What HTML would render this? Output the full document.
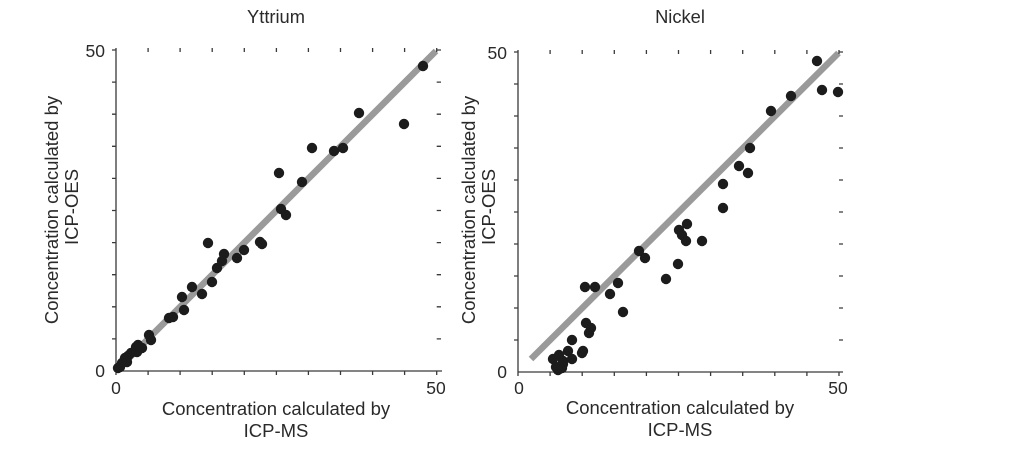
<!DOCTYPE html>
<html>
<head>
<meta charset="utf-8">
<style>
  html, body { margin: 0; padding: 0; background: #ffffff; }
  svg { display: block; }
  text { font-family: "Liberation Sans", Arial, sans-serif; fill: #2a2a2a; }
</style>
</head>
<body>
<svg width="1011" height="455" viewBox="0 0 1011 455" xmlns="http://www.w3.org/2000/svg">
  <rect width="1011" height="455" fill="#ffffff"/>

  <!-- ===================== LEFT CHART: Yttrium ===================== -->
  <text x="276" y="23" font-size="18.3" text-anchor="middle">Yttrium</text>

  <!-- identity line -->
  <line x1="117" y1="370" x2="436" y2="51" stroke="#9a9a9a" stroke-width="6.5"/>

  <!-- axes -->
  <g stroke="#3a3a3a" stroke-width="1.3" fill="none">
    <line x1="116" y1="48" x2="116" y2="371"/>
    <line x1="116" y1="371" x2="442" y2="371"/>
    <!-- left ticks -->
    <path d="M112 50H116 M112 82.1H116 M112 114.2H116 M112 146.3H116 M112 178.4H116 M112 210.5H116 M112 242.6H116 M112 274.7H116 M112 306.8H116 M112 338.9H116"/>
    <!-- bottom ticks -->
    <path d="M116 371V375 M148.1 371V375 M180.1 371V375 M212.2 371V375 M244.3 371V375 M276.4 371V375 M308.4 371V375 M340.5 371V375 M372.6 371V375 M404.6 371V375 M436.7 371V375"/>
    <!-- top ticks -->
    <path d="M148.1 48V52 M180.1 48V52 M212.2 48V52 M244.3 48V52 M276.4 48V52 M308.4 48V52 M340.5 48V52 M372.6 48V52 M404.6 48V52 M436.7 48V52"/>
    <!-- right ticks -->
    <path d="M436.7 50H441 M436.7 82.1H441 M436.7 114.2H441 M436.7 146.3H441 M436.7 178.4H441 M436.7 210.5H441 M436.7 242.6H441 M436.7 274.7H441 M436.7 306.8H441 M436.7 338.9H441"/>
  </g>

  <!-- tick labels -->
  <text x="105" y="57" font-size="17.5" text-anchor="end">50</text>
  <text x="105" y="377" font-size="17.5" text-anchor="end">0</text>
  <text x="116" y="394" font-size="17.5" text-anchor="middle">0</text>
  <text x="436" y="394" font-size="17.5" text-anchor="middle">50</text>

  <!-- axis titles -->
  <text x="276" y="415" font-size="18.5" text-anchor="middle">Concentration calculated by</text>
  <text x="276" y="437" font-size="18.5" text-anchor="middle">ICP-MS</text>
  <g transform="translate(58,210) rotate(-90)">
    <text x="0" y="0" font-size="18.5" text-anchor="middle">Concentration calculated by</text>
  </g>
  <g transform="translate(78,207) rotate(-90)">
    <text x="0" y="0" font-size="18.5" text-anchor="middle">ICP-OES</text>
  </g>

  <!-- data points -->
  <g fill="#1c1c1c">
    <circle cx="423" cy="66" r="5.2"/>
    <circle cx="359" cy="113" r="5.2"/>
    <circle cx="404" cy="124" r="5.2"/>
    <circle cx="312" cy="148" r="5.2"/>
    <circle cx="334" cy="151" r="5.2"/>
    <circle cx="343" cy="148" r="5.2"/>
    <circle cx="279" cy="173" r="5.2"/>
    <circle cx="302" cy="182" r="5.2"/>
    <circle cx="281" cy="209" r="5.2"/>
    <circle cx="286" cy="215" r="5.2"/>
    <circle cx="208" cy="243" r="5.2"/>
    <circle cx="260" cy="242" r="5.2"/>
    <circle cx="262" cy="244" r="5.2"/>
    <circle cx="244" cy="250" r="5.2"/>
    <circle cx="237" cy="258" r="5.2"/>
    <circle cx="224" cy="254" r="5.2"/>
    <circle cx="222" cy="261" r="5.2"/>
    <circle cx="217" cy="268" r="5.2"/>
    <circle cx="212" cy="282" r="5.2"/>
    <circle cx="192" cy="287" r="5.2"/>
    <circle cx="202" cy="294" r="5.2"/>
    <circle cx="182" cy="297" r="5.2"/>
    <circle cx="184" cy="310" r="5.2"/>
    <circle cx="173" cy="317" r="5.2"/>
    <circle cx="169" cy="318" r="5.2"/>
    <circle cx="149" cy="335" r="5.2"/>
    <circle cx="151" cy="340" r="5.2"/>
    <circle cx="138" cy="345" r="5.2"/>
    <circle cx="136" cy="347" r="5.2"/>
    <circle cx="142" cy="348" r="5.2"/>
    <circle cx="137" cy="352" r="5.2"/>
    <circle cx="131" cy="353" r="5.2"/>
    <circle cx="128" cy="356" r="5.2"/>
    <circle cx="125" cy="358" r="5.2"/>
    <circle cx="127" cy="362" r="5.2"/>
    <circle cx="122" cy="363" r="5.2"/>
    <circle cx="120" cy="367" r="5.2"/>
    <circle cx="118" cy="368" r="5.2"/>
  </g>

  <!-- ===================== RIGHT CHART: Nickel ===================== -->
  <text x="680" y="23" font-size="18.3" text-anchor="middle">Nickel</text>

  <!-- identity line -->
  <line x1="531" y1="359" x2="838.5" y2="53" stroke="#9a9a9a" stroke-width="6.5"/>

  <!-- axes -->
  <g stroke="#3a3a3a" stroke-width="1.3" fill="none">
    <line x1="518" y1="50" x2="518" y2="372"/>
    <line x1="518" y1="372" x2="843" y2="372"/>
    <path d="M514 52H518 M514 84H518 M514 116H518 M514 148H518 M514 180H518 M514 212H518 M514 244H518 M514 276H518 M514 308H518 M514 340H518"/>
    <path d="M518 372V376 M550.1 372V376 M582.2 372V376 M614.3 372V376 M646.4 372V376 M678.5 372V376 M710.6 372V376 M742.7 372V376 M774.8 372V376 M806.9 372V376 M839 372V376"/>
    <path d="M550.1 50V54 M582.2 50V54 M614.3 50V54 M646.4 50V54 M678.5 50V54 M710.6 50V54 M742.7 50V54 M774.8 50V54 M806.9 50V54 M839 50V54"/>
    <path d="M839 52H843 M839 84H843 M839 116H843 M839 148H843 M839 180H843 M839 212H843 M839 244H843 M839 276H843 M839 308H843 M839 340H843"/>
  </g>

  <!-- tick labels -->
  <text x="507" y="59" font-size="17.5" text-anchor="end">50</text>
  <text x="507" y="378" font-size="17.5" text-anchor="end">0</text>
  <text x="519" y="394" font-size="17.5" text-anchor="middle">0</text>
  <text x="838" y="394" font-size="17.5" text-anchor="middle">50</text>

  <!-- axis titles -->
  <text x="680" y="414" font-size="18.5" text-anchor="middle">Concentration calculated by</text>
  <text x="680" y="436" font-size="18.5" text-anchor="middle">ICP-MS</text>
  <g transform="translate(475,210) rotate(-90)">
    <text x="0" y="0" font-size="18.5" text-anchor="middle">Concentration calculated by</text>
  </g>
  <g transform="translate(495,207) rotate(-90)">
    <text x="0" y="0" font-size="18.5" text-anchor="middle">ICP-OES</text>
  </g>

  <!-- data points -->
  <g fill="#1c1c1c">
    <circle cx="817" cy="61" r="5.2"/>
    <circle cx="822" cy="90" r="5.2"/>
    <circle cx="838" cy="92" r="5.2"/>
    <circle cx="791" cy="96" r="5.2"/>
    <circle cx="771" cy="111" r="5.2"/>
    <circle cx="750" cy="148" r="5.2"/>
    <circle cx="739" cy="166" r="5.2"/>
    <circle cx="748" cy="173" r="5.2"/>
    <circle cx="723" cy="184" r="5.2"/>
    <circle cx="723" cy="208" r="5.2"/>
    <circle cx="687" cy="224" r="5.2"/>
    <circle cx="679" cy="230" r="5.2"/>
    <circle cx="682" cy="235" r="5.2"/>
    <circle cx="686" cy="241" r="5.2"/>
    <circle cx="702" cy="241" r="5.2"/>
    <circle cx="678" cy="264" r="5.2"/>
    <circle cx="666" cy="279" r="5.2"/>
    <circle cx="639" cy="251" r="5.2"/>
    <circle cx="645" cy="258" r="5.2"/>
    <circle cx="585" cy="287" r="5.2"/>
    <circle cx="595" cy="287" r="5.2"/>
    <circle cx="618" cy="283" r="5.2"/>
    <circle cx="610" cy="294" r="5.2"/>
    <circle cx="623" cy="312" r="5.2"/>
    <circle cx="586" cy="323" r="5.2"/>
    <circle cx="591" cy="328" r="5.2"/>
    <circle cx="589" cy="333" r="5.2"/>
    <circle cx="572" cy="340" r="5.2"/>
    <circle cx="583" cy="351" r="5.2"/>
    <circle cx="582" cy="353" r="5.2"/>
    <circle cx="568" cy="351" r="5.2"/>
    <circle cx="559" cy="355" r="5.2"/>
    <circle cx="553" cy="359" r="5.2"/>
    <circle cx="572" cy="359" r="5.2"/>
    <circle cx="563" cy="361" r="5.2"/>
    <circle cx="563" cy="364" r="5.2"/>
    <circle cx="556" cy="367" r="5.2"/>
    <circle cx="562" cy="368" r="5.2"/>
    <circle cx="558" cy="370" r="5.2"/>
  </g>
</svg>
</body>
</html>
